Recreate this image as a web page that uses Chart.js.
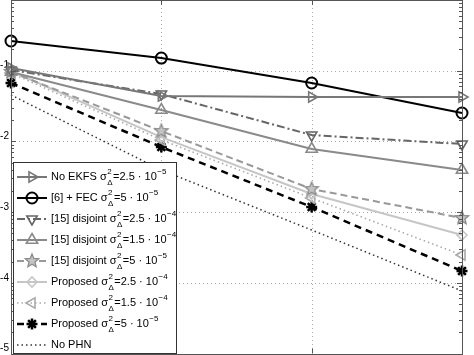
<!DOCTYPE html>
<html><head><meta charset="utf-8">
<script src="https://cdn.jsdelivr.net/npm/chart.js@4/dist/chart.umd.min.js"></script>
<style>html,body{margin:0;padding:0;background:#fff;overflow:hidden}#wrap{position:relative;width:474px;height:355px}</style>
</head><body><div id="wrap"><canvas id="c" width="474" height="355"></canvas></div>
<script>
// ---- data ----
const xValues = [1, 2, 3, 4];
const noEkfs = [0.109, 0.0439, 0.0425, 0.0425];
const fec = [0.263, 0.151, 0.0670, 0.0252];
const disj25 = [0.102, 0.0468, 0.0123, 0.00919];
const disj15 = [0.0959, 0.0278, 0.00781, 0.00394];
const disj05 = [0.0959, 0.0140, 0.00212, 0.000825];
const prop25 = [0.099, 0.0115, 0.00180, 0.000474];
const prop15 = [0.0927, 0.0105, 0.00158, 0.000247];
const prop05 = [0.0670, 0.00833, 0.00118, 0.000147];
const noPhn = [0.0453, 0.00394, 0.000558, 0.0000766];
const yTickExponents = [-1, -2, -3, -4, -5];
const legendNames = ['No EKFS', '[6] + FEC', '[15] disjoint', '[15] disjoint', '[15] disjoint', 'Proposed', 'Proposed', 'Proposed', 'No PHN'];
const legendSigma = ['2.5', '5', '2.5', '1.5', '5', '2.5', '1.5', '5', null];
const legendExp = ['\u22125', '\u22125', '\u22124', '\u22124', '\u22125', '\u22124', '\u22124', '\u22125', null];

const FONT = '"Liberation Sans", Arial, Helvetica, sans-serif';

function starCanvas(R, fill, stroke) {
  const s = Math.ceil(R * 2 + 4);
  const c = document.createElement('canvas'); c.width = s; c.height = s;
  const g = c.getContext('2d');
  g.beginPath();
  for (let k = 0; k < 10; k++) {
    const r = k % 2 ? R * 0.45 : R;
    const a = -Math.PI / 2 + k * Math.PI / 5;
    const px = s / 2 + r * Math.cos(a), py = s / 2 + r * Math.sin(a);
    if (k) g.lineTo(px, py); else g.moveTo(px, py);
  }
  g.closePath(); g.fillStyle = fill; g.fill();
  g.strokeStyle = stroke; g.lineWidth = 1.3; g.stroke();
  return c;
}
const starImg = starCanvas(7, '#c4c4c4', '#8c8c8c');

function pts(arr) { return arr.map((v, i) => ({ x: xValues[i], y: v })); }

const styles = [
  { data: noEkfs, color: '#777', width: 2, dash: [], ps: 'triangle', rot: 90, r: 6, pbw: 1.6 },
  { data: fec, color: '#000', width: 2, dash: [], ps: 'circle', rot: 0, r: 5.5, pbw: 2 },
  { data: disj25, color: '#666', width: 2, dash: [8, 3, 2, 3], ps: 'triangle', rot: 180, r: 6, pbw: 1.6 },
  { data: disj15, color: '#8a8a8a', width: 2, dash: [], ps: 'triangle', rot: 0, r: 6.5, pbw: 1.6 },
  { data: disj05, color: '#999', width: 2, dash: [7, 4], ps: starImg, rot: 0, r: 7, pbw: 1 },
  { data: prop25, color: '#c6c6c6', width: 2, dash: [], ps: 'rectRot', rot: 0, r: 5, pbw: 1.6 },
  { data: prop15, color: '#aaa', width: 1.6, dash: [1.5, 3], ps: 'triangle', rot: 270, r: 6, pbw: 1.6 },
  { data: prop05, color: '#000', width: 2.5, dash: [7, 5], ps: 'star', rot: 0, r: 5.5, pbw: 2.5 },
  { data: noPhn, color: '#333', width: 1.5, dash: [1.5, 3], ps: false, rot: 0, r: 0, pbw: 0 }
];

const datasets = styles.map((s, i) => ({
  label: legendNames[i],
  data: pts(s.data),
  borderColor: s.color,
  borderWidth: s.width,
  borderDash: s.dash,
  pointStyle: s.ps,
  pointRotation: s.rot,
  pointRadius: s.ps ? s.r : 0,
  pointHoverRadius: s.ps ? s.r : 0,
  pointBorderColor: s.color,
  pointBackgroundColor: 'transparent',
  pointBorderWidth: s.pbw,
  fill: false,
  tension: 0,
  clip: false
}));

const gridPlugin = {
  id: 'dotgrid',
  beforeDatasetsDraw(chart) {
    const ctx = chart.ctx, a = chart.chartArea;
    const ys = chart.scales.y, xs = chart.scales.x;
    ctx.save();
    ctx.strokeStyle = '#aaa'; ctx.lineWidth = 1; ctx.setLineDash([1, 3]);
    ctx.beginPath();
    for (let d = -4; d <= -1; d++) {
      const y = Math.round(ys.getPixelForValue(Math.pow(10, d))) + 0.5;
      ctx.moveTo(a.left, y); ctx.lineTo(a.right, y);
    }
    for (let i = 1; i < xValues.length - 1; i++) {
      const x = Math.round(xs.getPixelForValue(xValues[i])) + 0.5;
      ctx.moveTo(x, a.top); ctx.lineTo(x, a.bottom);
    }
    ctx.stroke();
    // y tick labels (exponents of the decade ticks)
    ctx.fillStyle = '#000'; ctx.font = '10px ' + FONT;
    ctx.textAlign = 'right'; ctx.textBaseline = 'middle';
    for (const e of yTickExponents) {
      const y = ys.getPixelForValue(Math.pow(10, e));
      ctx.fillText('-' + Math.abs(e), a.left - 2, y - 5);
    }
    ctx.restore();
  }
};

const framePlugin = {
  id: 'frame',
  afterDatasetsDraw(chart) {
    const ctx = chart.ctx, a = chart.chartArea;
    const ys = chart.scales.y, xs = chart.scales.x;
    ctx.save();
    ctx.strokeStyle = '#555'; ctx.lineWidth = 1; ctx.setLineDash([]);
    ctx.strokeRect(Math.round(a.left) + 0.5, Math.round(a.top) + 0.5, Math.round(a.right - a.left), Math.round(a.bottom - a.top));
    ctx.beginPath();
    for (let d = -5; d <= 0; d++) {
      for (let m = 1; m <= 9; m++) {
        const v = m * Math.pow(10, d);
        if (v > 1.0000001) continue;
        const y = Math.round(ys.getPixelForValue(v)) + 0.5;
        const len = m === 1 ? 5 : 3;
        ctx.moveTo(a.left, y); ctx.lineTo(a.left + len, y);
        ctx.moveTo(a.right, y); ctx.lineTo(a.right - len, y);
      }
    }
    for (let i = 1; i < xValues.length - 1; i++) {
      const x = Math.round(xs.getPixelForValue(xValues[i])) + 0.5;
      ctx.moveTo(x, a.top); ctx.lineTo(x, a.top + 5);
      ctx.moveTo(x, a.bottom); ctx.lineTo(x, a.bottom - 5);
    }
    ctx.stroke();

    // legend
    const L = 13, T = 162, R = 176, B = 353;
    ctx.fillStyle = '#fff'; ctx.fillRect(L, T, R - L, B - T);
    ctx.strokeStyle = '#333'; ctx.strokeRect(L + 0.5, T + 0.5, R - L, B - T);
    const helpers = Chart.helpers;
    for (let i = 0; i < styles.length; i++) {
      const s = styles[i];
      const y = 177 + 21 * i;
      ctx.save();
      ctx.strokeStyle = s.color; ctx.lineWidth = s.width; ctx.setLineDash(s.dash);
      ctx.beginPath(); ctx.moveTo(17, y); ctx.lineTo(47, y); ctx.stroke();
      ctx.setLineDash([]);
      if (s.ps) {
        ctx.strokeStyle = s.color; ctx.fillStyle = 'rgba(0,0,0,0)'; ctx.lineWidth = s.pbw;
        if (helpers && helpers.drawPoint) {
          helpers.drawPoint(ctx, { pointStyle: s.ps, rotation: s.rot, radius: s.r, borderWidth: s.pbw }, 32, y);
        }
      }
      ctx.restore();
      drawLabel(ctx, 51, y, i);
    }
    ctx.restore();
  }
};

function drawLabel(ctx, x, y, i) {
  ctx.save();
  ctx.fillStyle = '#000'; ctx.textBaseline = 'middle'; ctx.textAlign = 'left';
  ctx.font = '11px ' + FONT;
  if (legendSigma[i] === null) { ctx.fillText(legendNames[i], x, y); ctx.restore(); return; }
  let t = legendNames[i] + ' \u03c3';
  ctx.fillText(t, x, y); x += ctx.measureText(t).width;
  ctx.font = '8px ' + FONT;
  ctx.fillText('2', x + 0.5, y - 5);
  ctx.fillText('\u0394', x + 0.5, y + 6);
  x += ctx.measureText('\u0394').width + 1;
  ctx.font = '11px ' + FONT;
  t = '=' + legendSigma[i] + ' \u00b7 10';
  ctx.fillText(t, x, y); x += ctx.measureText(t).width;
  ctx.font = '8px ' + FONT;
  ctx.fillText(legendExp[i], x + 0.5, y - 5);
  ctx.restore();
}

new Chart(document.getElementById('c'), {
  type: 'line',
  data: { datasets },
  plugins: [gridPlugin, framePlugin],
  options: {
    responsive: false,
    animation: false,
    events: [],
    layout: { autoPadding: false, padding: { left: 11, right: 12, top: 0, bottom: 1.5 } },
    plugins: { legend: { display: false }, tooltip: { enabled: false }, title: { display: false } },
    scales: {
      x: {
        type: 'linear', min: xValues[0], max: xValues[xValues.length - 1],
        display: false
      },
      y: {
        type: 'logarithmic', min: 1e-5, max: 1,
        display: false
      }
    }
  }
});
</script></body></html>
